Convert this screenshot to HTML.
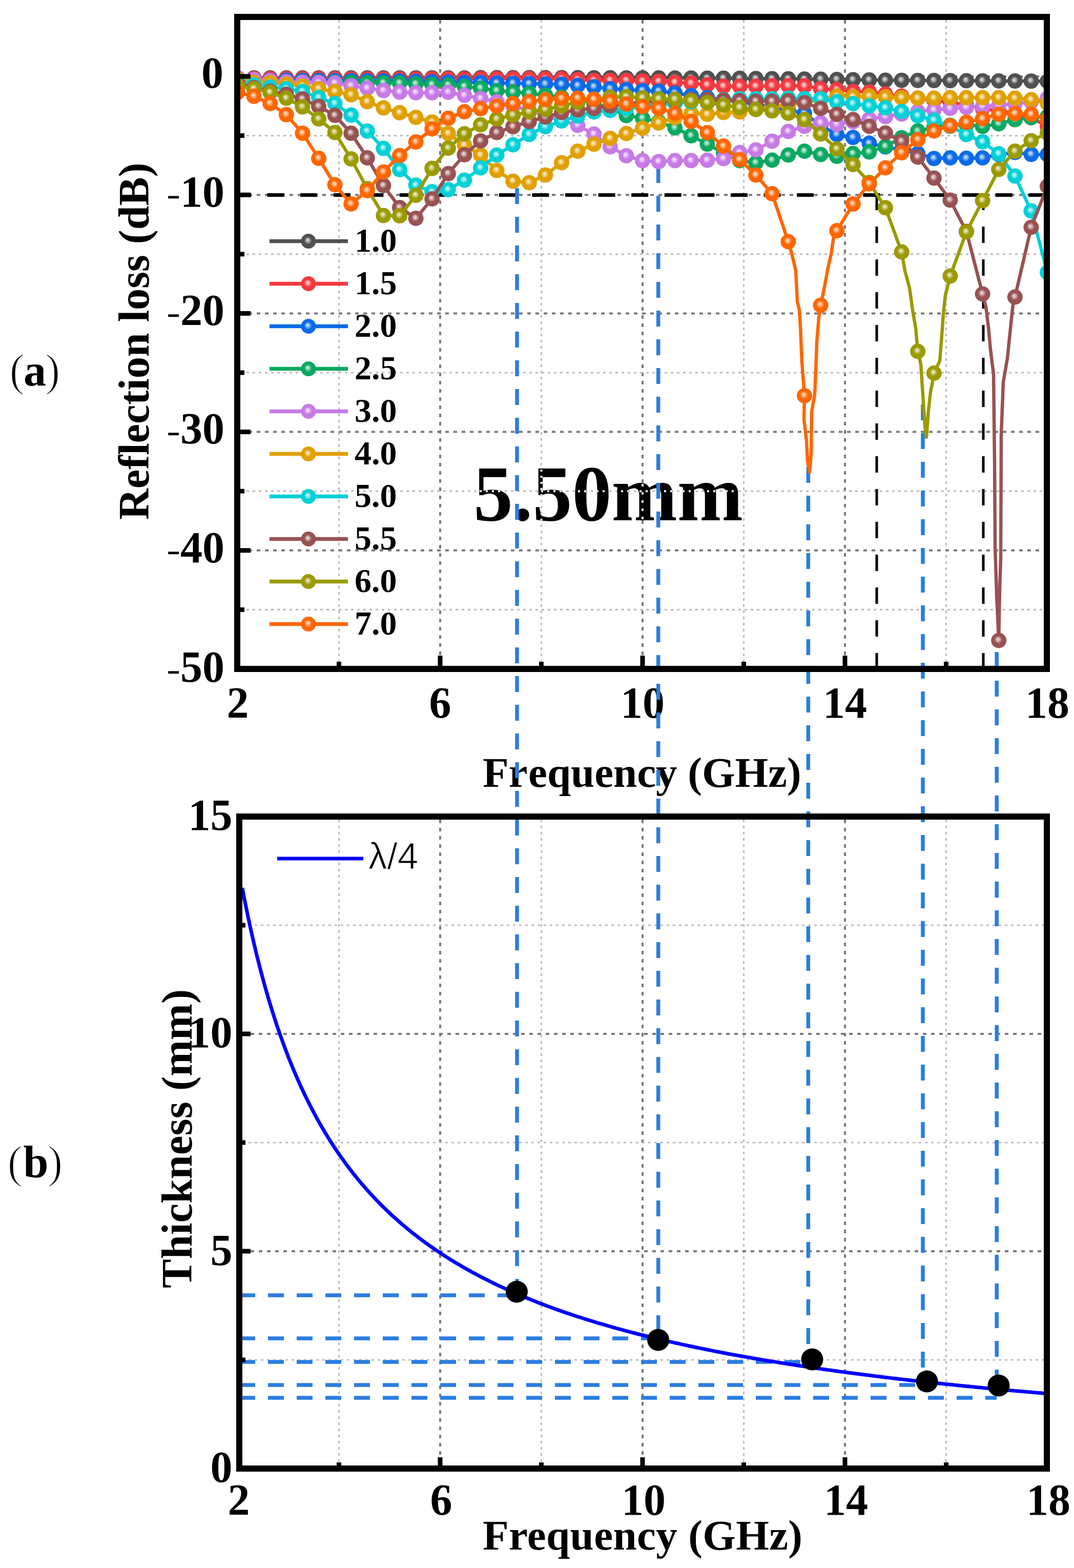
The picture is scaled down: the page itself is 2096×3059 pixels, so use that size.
<!DOCTYPE html><html><head><meta charset="utf-8"><title>Reflection loss and thickness</title>
<style>html,body{margin:0;padding:0;background:#fff;}svg{display:block;}</style></head><body>
<svg width="2096" height="3059" viewBox="0 0 2096 3059">
<defs>
<radialGradient id="g10" cx="0.5" cy="0.5" r="0.5" fx="0.44" fy="0.41"><stop offset="0" stop-color="#e5e5e5"/><stop offset="0.22" stop-color="#b0b0b0"/><stop offset="0.5" stop-color="#505050"/><stop offset="1" stop-color="#505050"/></radialGradient>
<radialGradient id="g15" cx="0.5" cy="0.5" r="0.5" fx="0.44" fy="0.41"><stop offset="0" stop-color="#fee1e2"/><stop offset="0.22" stop-color="#faa6a9"/><stop offset="0.5" stop-color="#f5393f"/><stop offset="1" stop-color="#f5393f"/></radialGradient>
<radialGradient id="g20" cx="0.5" cy="0.5" r="0.5" fx="0.44" fy="0.41"><stop offset="0" stop-color="#dae9fc"/><stop offset="0.22" stop-color="#91bcf5"/><stop offset="0.5" stop-color="#0a6be8"/><stop offset="1" stop-color="#0a6be8"/></radialGradient>
<radialGradient id="g25" cx="0.5" cy="0.5" r="0.5" fx="0.44" fy="0.41"><stop offset="0" stop-color="#daf2e7"/><stop offset="0.22" stop-color="#91d8b7"/><stop offset="0.5" stop-color="#0aa860"/><stop offset="1" stop-color="#0aa860"/></radialGradient>
<radialGradient id="g30" cx="0.5" cy="0.5" r="0.5" fx="0.44" fy="0.41"><stop offset="0" stop-color="#f7ebfb"/><stop offset="0.22" stop-color="#e6c3f4"/><stop offset="0.5" stop-color="#c77ae6"/><stop offset="1" stop-color="#c77ae6"/></radialGradient>
<radialGradient id="g40" cx="0.5" cy="0.5" r="0.5" fx="0.44" fy="0.41"><stop offset="0" stop-color="#faf1d9"/><stop offset="0.22" stop-color="#f1d48c"/><stop offset="0.5" stop-color="#e0a000"/><stop offset="1" stop-color="#e0a000"/></radialGradient>
<radialGradient id="g50" cx="0.5" cy="0.5" r="0.5" fx="0.44" fy="0.41"><stop offset="0" stop-color="#d9f8f9"/><stop offset="0.22" stop-color="#8ceaed"/><stop offset="0.5" stop-color="#00d0d6"/><stop offset="1" stop-color="#00d0d6"/></radialGradient>
<radialGradient id="g55" cx="0.5" cy="0.5" r="0.5" fx="0.44" fy="0.41"><stop offset="0" stop-color="#f0e5e5"/><stop offset="0.22" stop-color="#d1b1b1"/><stop offset="0.5" stop-color="#985252"/><stop offset="1" stop-color="#985252"/></radialGradient>
<radialGradient id="g60" cx="0.5" cy="0.5" r="0.5" fx="0.44" fy="0.41"><stop offset="0" stop-color="#f0f0d9"/><stop offset="0.22" stop-color="#d2d28c"/><stop offset="0.5" stop-color="#9a9a00"/><stop offset="1" stop-color="#9a9a00"/></radialGradient>
<radialGradient id="g70" cx="0.5" cy="0.5" r="0.5" fx="0.44" fy="0.41"><stop offset="0" stop-color="#ffe8d9"/><stop offset="0.22" stop-color="#ffba8c"/><stop offset="0.5" stop-color="#ff6600"/><stop offset="1" stop-color="#ff6600"/></radialGradient>
<clipPath id="clipA"><rect x="469" y="39" width="1568" height="1260"/></clipPath>
<clipPath id="clipB"><rect x="473" y="1599" width="1564" height="1260"/></clipPath>
<clipPath id="clipT"><text x="924" y="1015" style="font-family:&quot;Liberation Serif&quot;,&quot;Times New Roman&quot;,serif;font-weight:bold;font-size:154px">5.50mm</text></clipPath>
</defs>
<rect x="0" y="0" width="2096" height="3059" fill="#fff"/>
<g><line x1="661.5" y1="39" x2="661.5" y2="1299" stroke="#bdbdbd" stroke-width="3.2" stroke-dasharray="5 7"/><line x1="859" y1="39" x2="859" y2="1299" stroke="#7a7a7a" stroke-width="4" stroke-dasharray="7 9"/><line x1="1056.5" y1="39" x2="1056.5" y2="1299" stroke="#bdbdbd" stroke-width="3.2" stroke-dasharray="5 7"/><line x1="1254" y1="39" x2="1254" y2="1299" stroke="#7a7a7a" stroke-width="4" stroke-dasharray="7 9"/><line x1="1451.5" y1="39" x2="1451.5" y2="1299" stroke="#bdbdbd" stroke-width="3.2" stroke-dasharray="5 7"/><line x1="1649" y1="39" x2="1649" y2="1299" stroke="#7a7a7a" stroke-width="4" stroke-dasharray="7 9"/><line x1="1846.5" y1="39" x2="1846.5" y2="1299" stroke="#bdbdbd" stroke-width="3.2" stroke-dasharray="5 7"/><line x1="469" y1="149" x2="2037" y2="149" stroke="#7a7a7a" stroke-width="4" stroke-dasharray="7 9"/><line x1="469" y1="264.6" x2="2037" y2="264.6" stroke="#bdbdbd" stroke-width="3.2" stroke-dasharray="5 7"/><line x1="469" y1="380.2" x2="2037" y2="380.2" stroke="#7a7a7a" stroke-width="4" stroke-dasharray="7 9"/><line x1="469" y1="495.8" x2="2037" y2="495.8" stroke="#bdbdbd" stroke-width="3.2" stroke-dasharray="5 7"/><line x1="469" y1="611.4" x2="2037" y2="611.4" stroke="#7a7a7a" stroke-width="4" stroke-dasharray="7 9"/><line x1="469" y1="727" x2="2037" y2="727" stroke="#bdbdbd" stroke-width="3.2" stroke-dasharray="5 7"/><line x1="469" y1="842.6" x2="2037" y2="842.6" stroke="#7a7a7a" stroke-width="4" stroke-dasharray="7 9"/><line x1="469" y1="958.2" x2="2037" y2="958.2" stroke="#bdbdbd" stroke-width="3.2" stroke-dasharray="5 7"/><line x1="469" y1="1073.8" x2="2037" y2="1073.8" stroke="#7a7a7a" stroke-width="4" stroke-dasharray="7 9"/><line x1="469" y1="1189.4" x2="2037" y2="1189.4" stroke="#bdbdbd" stroke-width="3.2" stroke-dasharray="5 7"/><line x1="661.5" y1="1599" x2="661.5" y2="2859" stroke="#bdbdbd" stroke-width="3.2" stroke-dasharray="5 7"/><line x1="859" y1="1599" x2="859" y2="2859" stroke="#7a7a7a" stroke-width="4" stroke-dasharray="7 9"/><line x1="1056.5" y1="1599" x2="1056.5" y2="2859" stroke="#bdbdbd" stroke-width="3.2" stroke-dasharray="5 7"/><line x1="1254" y1="1599" x2="1254" y2="2859" stroke="#7a7a7a" stroke-width="4" stroke-dasharray="7 9"/><line x1="1451.5" y1="1599" x2="1451.5" y2="2859" stroke="#bdbdbd" stroke-width="3.2" stroke-dasharray="5 7"/><line x1="1649" y1="1599" x2="1649" y2="2859" stroke="#7a7a7a" stroke-width="4" stroke-dasharray="7 9"/><line x1="1846.5" y1="1599" x2="1846.5" y2="2859" stroke="#bdbdbd" stroke-width="3.2" stroke-dasharray="5 7"/><line x1="473" y1="2653" x2="2037" y2="2653" stroke="#bdbdbd" stroke-width="3.2" stroke-dasharray="5 7"/><line x1="473" y1="2441" x2="2037" y2="2441" stroke="#7a7a7a" stroke-width="4" stroke-dasharray="7 9"/><line x1="473" y1="2229" x2="2037" y2="2229" stroke="#bdbdbd" stroke-width="3.2" stroke-dasharray="5 7"/><line x1="473" y1="2017" x2="2037" y2="2017" stroke="#7a7a7a" stroke-width="4" stroke-dasharray="7 9"/><line x1="473" y1="1805" x2="2037" y2="1805" stroke="#bdbdbd" stroke-width="3.2" stroke-dasharray="5 7"/></g>
<text x="924" y="1015" style="font-family:&quot;Liberation Serif&quot;,&quot;Times New Roman&quot;,serif;font-weight:bold;font-size:154px">5.50mm</text>
<g clip-path="url(#clipT)" stroke="#f4f4f4" stroke-width="4"><line x1="900" y1="958.2" x2="1460" y2="958.2" stroke-dasharray="4 8"/><line x1="1056.5" y1="880" x2="1056.5" y2="1030" stroke-dasharray="4 8"/><line x1="1254" y1="880" x2="1254" y2="1030" stroke-dasharray="5 11"/></g>
<g style="font-family:&quot;Liberation Serif&quot;,&quot;Times New Roman&quot;,serif;font-weight:bold;font-size:86px" fill="#000"><text x="436" y="171" text-anchor="end">0</text><text x="436" y="403" text-anchor="end"><tspan font-weight="normal" dy="2" dx="2" stroke="#fff" stroke-width="1.4">-</tspan><tspan dy="-2" dx="-1">10</tspan></text><text x="436" y="634" text-anchor="end"><tspan font-weight="normal" dy="2" dx="2" stroke="#fff" stroke-width="1.4">-</tspan><tspan dy="-2" dx="-1">20</tspan></text><text x="436" y="865" text-anchor="end"><tspan font-weight="normal" dy="2" dx="2" stroke="#fff" stroke-width="1.4">-</tspan><tspan dy="-2" dx="-1">30</tspan></text><text x="436" y="1097" text-anchor="end"><tspan font-weight="normal" dy="2" dx="2" stroke="#fff" stroke-width="1.4">-</tspan><tspan dy="-2" dx="-1">40</tspan></text><text x="436" y="1330" text-anchor="end"><tspan font-weight="normal" dy="2" dx="2" stroke="#fff" stroke-width="1.4">-</tspan><tspan dy="-2" dx="-1">50</tspan></text><text x="464" y="1400" text-anchor="middle">2</text><text x="859" y="1400" text-anchor="middle">6</text><text x="1254" y="1400" text-anchor="middle">10</text><text x="1649" y="1400" text-anchor="middle">14</text><text x="2044" y="1400" text-anchor="middle">18</text><text x="453.5" y="2891" text-anchor="end">0</text><text x="453.5" y="2468" text-anchor="end">5</text><text x="453.5" y="2043" text-anchor="end">10</text><text x="453.5" y="1619" text-anchor="end">15</text><text x="466" y="2955" text-anchor="middle">2</text><text x="861" y="2955" text-anchor="middle">6</text><text x="1256" y="2955" text-anchor="middle">10</text><text x="1651" y="2955" text-anchor="middle">14</text><text x="2046" y="2955" text-anchor="middle">18</text></g>
<text transform="translate(289.5,1014) rotate(-90)" style="font-family:&quot;Liberation Serif&quot;,&quot;Times New Roman&quot;,serif;font-weight:bold;font-size:84.2px">Reflection loss (dB)</text>
<text x="942" y="1534.5" style="font-family:&quot;Liberation Serif&quot;,&quot;Times New Roman&quot;,serif;font-weight:bold;font-size:83px">Fr<tspan dx="3">equency (GHz)</tspan></text>
<text transform="translate(373.5,2513) rotate(-90)" style="font-family:&quot;Liberation Serif&quot;,&quot;Times New Roman&quot;,serif;font-weight:bold;font-size:85px">Thickness (mm)</text>
<text x="942" y="3023" style="font-family:&quot;Liberation Serif&quot;,&quot;Times New Roman&quot;,serif;font-weight:bold;font-size:83px" textLength="624" lengthAdjust="spacing">Frequency (GHz)</text>
<text y="752" style="font-family:&quot;Liberation Serif&quot;,&quot;Times New Roman&quot;,serif;font-size:88px"><tspan x="18.6" stroke="#fff" stroke-width="2">(</tspan><tspan x="46" font-weight="bold">a</tspan><tspan x="88" stroke="#fff" stroke-width="2">)</tspan></text>
<text y="2296.5" style="font-family:&quot;Liberation Serif&quot;,&quot;Times New Roman&quot;,serif;font-size:88px"><tspan x="14.6" stroke="#fff" stroke-width="2">(</tspan><tspan x="45.5" font-weight="bold">b</tspan><tspan x="93" stroke="#fff" stroke-width="2">)</tspan></text>
<line x1="457" y1="380.5" x2="2037" y2="380.5" stroke="#000" stroke-width="7" stroke-dasharray="33 31.6"/>
<line x1="1711" y1="378" x2="1711" y2="1299" stroke="#000" stroke-width="5" stroke-dasharray="32 32"/>
<line x1="1919" y1="378" x2="1919" y2="1299" stroke="#000" stroke-width="5" stroke-dasharray="32 32"/>
<line x1="1009" y1="367" x2="1009" y2="2520" stroke="#2a7de1" stroke-width="7.5" stroke-dasharray="31 25"/>
<line x1="1284.7" y1="326" x2="1284.7" y2="2614" stroke="#2a7de1" stroke-width="7.5" stroke-dasharray="31 25"/>
<line x1="1577.4" y1="911" x2="1577.4" y2="2652" stroke="#2a7de1" stroke-width="7.5" stroke-dasharray="31 25"/>
<line x1="1801" y1="789" x2="1801" y2="2695" stroke="#2a7de1" stroke-width="7.5" stroke-dasharray="31 25"/>
<line x1="1945.2" y1="1272" x2="1945.2" y2="2703" stroke="#2a7de1" stroke-width="7.5" stroke-dasharray="31 25"/>
<line x1="467" y1="2527" x2="1009" y2="2527" stroke="#2a7de1" stroke-width="7.5" stroke-dasharray="31 25"/>
<line x1="467" y1="2611" x2="1284.7" y2="2611" stroke="#2a7de1" stroke-width="7.5" stroke-dasharray="31 25"/>
<line x1="467" y1="2657" x2="1584" y2="2657" stroke="#2a7de1" stroke-width="7.5" stroke-dasharray="31 25"/>
<line x1="467" y1="2702" x2="1808" y2="2702" stroke="#2a7de1" stroke-width="7.5" stroke-dasharray="31 25"/>
<line x1="467" y1="2727" x2="1945" y2="2727" stroke="#2a7de1" stroke-width="7.5" stroke-dasharray="31 25"/>
<g clip-path="url(#clipA)">
<path d="M464,152 L495.6,152 L527.2,152 L558.8,152 L590.4,152 L622,152 L653.6,152 L685.2,152 L716.8,152 L748.4,152 L780,152 L811.6,152 L843.2,152 L874.8,152 L906.4,152 L938,151.5 L969.6,151.5 L1001.2,151.5 L1032.8,151.5 L1064.4,151.5 L1096,151.5 L1127.6,151.6 L1159.2,151.7 L1190.8,151.8 L1222.4,151.9 L1254,152 L1285.6,152.1 L1317.2,152.2 L1348.8,152.3 L1380.4,152.4 L1412,152.5 L1443.6,152.8 L1475.2,153.2 L1506.8,153.5 L1538.4,153.8 L1570,154.2 L1601.6,154.5 L1633.2,155 L1664.8,155.5 L1696.4,156 L1728,156.5 L1759.6,156.7 L1791.2,156.9 L1822.8,157.1 L1854.4,157.3 L1886,157.5 L1917.6,157.7 L1949.2,157.9 L1980.8,158.1 L2012.4,158.3 L2044,158.5" fill="none" stroke="#505050" stroke-width="6.5" stroke-linejoin="round"/>
<g fill="url(#g10)"><circle cx="464" cy="152" r="15"/><circle cx="495.6" cy="152" r="15"/><circle cx="527.2" cy="152" r="15"/><circle cx="558.8" cy="152" r="15"/><circle cx="590.4" cy="152" r="15"/><circle cx="622" cy="152" r="15"/><circle cx="653.6" cy="152" r="15"/><circle cx="685.2" cy="152" r="15"/><circle cx="716.8" cy="152" r="15"/><circle cx="748.4" cy="152" r="15"/><circle cx="780" cy="152" r="15"/><circle cx="811.6" cy="152" r="15"/><circle cx="843.2" cy="152" r="15"/><circle cx="874.8" cy="152" r="15"/><circle cx="906.4" cy="152" r="15"/><circle cx="938" cy="151.5" r="15"/><circle cx="969.6" cy="151.5" r="15"/><circle cx="1001.2" cy="151.5" r="15"/><circle cx="1032.8" cy="151.5" r="15"/><circle cx="1064.4" cy="151.5" r="15"/><circle cx="1096" cy="151.5" r="15"/><circle cx="1127.6" cy="151.6" r="15"/><circle cx="1159.2" cy="151.7" r="15"/><circle cx="1190.8" cy="151.8" r="15"/><circle cx="1222.4" cy="151.9" r="15"/><circle cx="1254" cy="152" r="15"/><circle cx="1285.6" cy="152.1" r="15"/><circle cx="1317.2" cy="152.2" r="15"/><circle cx="1348.8" cy="152.3" r="15"/><circle cx="1380.4" cy="152.4" r="15"/><circle cx="1412" cy="152.5" r="15"/><circle cx="1443.6" cy="152.8" r="15"/><circle cx="1475.2" cy="153.2" r="15"/><circle cx="1506.8" cy="153.5" r="15"/><circle cx="1538.4" cy="153.8" r="15"/><circle cx="1570" cy="154.2" r="15"/><circle cx="1601.6" cy="154.5" r="15"/><circle cx="1633.2" cy="155" r="15"/><circle cx="1664.8" cy="155.5" r="15"/><circle cx="1696.4" cy="156" r="15"/><circle cx="1728" cy="156.5" r="15"/><circle cx="1759.6" cy="156.7" r="15"/><circle cx="1791.2" cy="156.9" r="15"/><circle cx="1822.8" cy="157.1" r="15"/><circle cx="1854.4" cy="157.3" r="15"/><circle cx="1886" cy="157.5" r="15"/><circle cx="1917.6" cy="157.7" r="15"/><circle cx="1949.2" cy="157.9" r="15"/><circle cx="1980.8" cy="158.1" r="15"/><circle cx="2012.4" cy="158.3" r="15"/><circle cx="2044" cy="158.5" r="15"/></g>
<path d="M464,153.5 L495.6,153.5 L527.2,153.5 L558.8,153.6 L590.4,153.6 L622,153.6 L653.6,153.7 L685.2,153.7 L716.8,153.7 L748.4,153.7 L780,153.8 L811.6,153.8 L843.2,153.8 L874.8,153.8 L906.4,153.8 L938,153.4 L969.6,153.4 L1001.2,153.4 L1032.8,153.5 L1064.4,153.5 L1096,153.5 L1127.6,155.2 L1159.2,156.9 L1190.8,156.9 L1222.4,156.9 L1254,157.9 L1285.6,158.8 L1317.2,160.7 L1348.8,162.5 L1380.4,165.5 L1412,168.2 L1443.6,168.2 L1475.2,168.2 L1506.8,167.5 L1538.4,167.3 L1570,167.5 L1601.6,173 L1633.2,174.8 L1664.8,178.5 L1696.4,179.5 L1728,183.5 L1759.6,187.5 L1791.2,191.5 L1822.8,195.5 L1854.4,199.5 L1886,205.5 L1917.6,211.5 L1949.2,216.5 L1980.8,221.5 L2012.4,229.5 L2044,246.5" fill="none" stroke="#f5393f" stroke-width="6.5" stroke-linejoin="round"/>
<g fill="url(#g15)"><circle cx="464" cy="153.5" r="15"/><circle cx="495.6" cy="153.5" r="15"/><circle cx="527.2" cy="153.5" r="15"/><circle cx="558.8" cy="153.6" r="15"/><circle cx="590.4" cy="153.6" r="15"/><circle cx="622" cy="153.6" r="15"/><circle cx="653.6" cy="153.7" r="15"/><circle cx="685.2" cy="153.7" r="15"/><circle cx="716.8" cy="153.7" r="15"/><circle cx="748.4" cy="153.7" r="15"/><circle cx="780" cy="153.8" r="15"/><circle cx="811.6" cy="153.8" r="15"/><circle cx="843.2" cy="153.8" r="15"/><circle cx="874.8" cy="153.8" r="15"/><circle cx="906.4" cy="153.8" r="15"/><circle cx="938" cy="153.4" r="15"/><circle cx="969.6" cy="153.4" r="15"/><circle cx="1001.2" cy="153.4" r="15"/><circle cx="1032.8" cy="153.5" r="15"/><circle cx="1064.4" cy="153.5" r="15"/><circle cx="1096" cy="153.5" r="15"/><circle cx="1127.6" cy="155.2" r="15"/><circle cx="1159.2" cy="156.9" r="15"/><circle cx="1190.8" cy="156.9" r="15"/><circle cx="1222.4" cy="156.9" r="15"/><circle cx="1254" cy="157.9" r="15"/><circle cx="1285.6" cy="158.8" r="15"/><circle cx="1317.2" cy="160.7" r="15"/><circle cx="1348.8" cy="162.5" r="15"/><circle cx="1380.4" cy="165.5" r="15"/><circle cx="1412" cy="168.2" r="15"/><circle cx="1443.6" cy="168.2" r="15"/><circle cx="1475.2" cy="168.2" r="15"/><circle cx="1506.8" cy="167.5" r="15"/><circle cx="1538.4" cy="167.3" r="15"/><circle cx="1570" cy="167.5" r="15"/><circle cx="1601.6" cy="173" r="15"/><circle cx="1633.2" cy="174.8" r="15"/><circle cx="1664.8" cy="178.5" r="15"/><circle cx="1696.4" cy="179.5" r="15"/><circle cx="1728" cy="183.5" r="15"/><circle cx="1759.6" cy="187.5" r="15"/><circle cx="1791.2" cy="191.5" r="15"/><circle cx="1822.8" cy="195.5" r="15"/><circle cx="1854.4" cy="199.5" r="15"/><circle cx="1886" cy="205.5" r="15"/><circle cx="1917.6" cy="211.5" r="15"/><circle cx="1949.2" cy="216.5" r="15"/><circle cx="1980.8" cy="221.5" r="15"/><circle cx="2012.4" cy="229.5" r="15"/><circle cx="2044" cy="246.5" r="15"/></g>
<path d="M464,156 L495.6,156.2 L527.2,156.4 L558.8,156.6 L590.4,156.8 L622,157 L653.6,157.2 L685.2,157.4 L716.8,157.6 L748.4,157.8 L780,158 L811.6,158.7 L843.2,159.4 L874.8,160.2 L906.4,160.9 L938,161.1 L969.6,161.8 L1001.2,162.4 L1032.8,163.1 L1064.4,163.8 L1096,164.5 L1127.6,166.8 L1159.2,169.2 L1190.8,173 L1222.4,174.8 L1254,176.7 L1285.6,177.7 L1317.2,181.5 L1348.8,186.5 L1380.4,190.5 L1412,194.5 L1443.6,198.5 L1475.2,203.5 L1506.8,209.5 L1538.4,214.5 L1570,221 L1601.6,244.5 L1633.2,262.5 L1664.8,268.1 L1696.4,279.5 L1728,286.6 L1759.6,292.5 L1791.2,299.5 L1822.8,309.2 L1854.4,308 L1886,308.7 L1917.6,308 L1949.2,301.5 L1980.8,297.5 L2012.4,301.2 L2044,301.5" fill="none" stroke="#0a6be8" stroke-width="6.5" stroke-linejoin="round"/>
<g fill="url(#g20)"><circle cx="464" cy="156" r="15"/><circle cx="495.6" cy="156.2" r="15"/><circle cx="527.2" cy="156.4" r="15"/><circle cx="558.8" cy="156.6" r="15"/><circle cx="590.4" cy="156.8" r="15"/><circle cx="622" cy="157" r="15"/><circle cx="653.6" cy="157.2" r="15"/><circle cx="685.2" cy="157.4" r="15"/><circle cx="716.8" cy="157.6" r="15"/><circle cx="748.4" cy="157.8" r="15"/><circle cx="780" cy="158" r="15"/><circle cx="811.6" cy="158.7" r="15"/><circle cx="843.2" cy="159.4" r="15"/><circle cx="874.8" cy="160.2" r="15"/><circle cx="906.4" cy="160.9" r="15"/><circle cx="938" cy="161.1" r="15"/><circle cx="969.6" cy="161.8" r="15"/><circle cx="1001.2" cy="162.4" r="15"/><circle cx="1032.8" cy="163.1" r="15"/><circle cx="1064.4" cy="163.8" r="15"/><circle cx="1096" cy="164.5" r="15"/><circle cx="1127.6" cy="166.8" r="15"/><circle cx="1159.2" cy="169.2" r="15"/><circle cx="1190.8" cy="173" r="15"/><circle cx="1222.4" cy="174.8" r="15"/><circle cx="1254" cy="176.7" r="15"/><circle cx="1285.6" cy="177.7" r="15"/><circle cx="1317.2" cy="181.5" r="15"/><circle cx="1348.8" cy="186.5" r="15"/><circle cx="1380.4" cy="190.5" r="15"/><circle cx="1412" cy="194.5" r="15"/><circle cx="1443.6" cy="198.5" r="15"/><circle cx="1475.2" cy="203.5" r="15"/><circle cx="1506.8" cy="209.5" r="15"/><circle cx="1538.4" cy="214.5" r="15"/><circle cx="1570" cy="221" r="15"/><circle cx="1601.6" cy="244.5" r="15"/><circle cx="1633.2" cy="262.5" r="15"/><circle cx="1664.8" cy="268.1" r="15"/><circle cx="1696.4" cy="279.5" r="15"/><circle cx="1728" cy="286.6" r="15"/><circle cx="1759.6" cy="292.5" r="15"/><circle cx="1791.2" cy="299.5" r="15"/><circle cx="1822.8" cy="309.2" r="15"/><circle cx="1854.4" cy="308" r="15"/><circle cx="1886" cy="308.7" r="15"/><circle cx="1917.6" cy="308" r="15"/><circle cx="1949.2" cy="301.5" r="15"/><circle cx="1980.8" cy="297.5" r="15"/><circle cx="2012.4" cy="301.2" r="15"/><circle cx="2044" cy="301.5" r="15"/></g>
<path d="M464,159 L495.6,159.3 L527.2,159.6 L558.8,159.9 L590.4,160.2 L622,160.5 L653.6,160.8 L685.2,161.1 L716.8,161.4 L748.4,161.7 L780,162 L811.6,163.5 L843.2,165 L874.8,166 L906.4,168.6 L938,171.9 L969.6,176.9 L1001.2,179.5 L1032.8,181.9 L1064.4,185.5 L1096,189.5 L1127.6,194.5 L1159.2,201.5 L1190.8,211.5 L1222.4,225.5 L1254,230.5 L1285.6,237.5 L1317.2,249.5 L1348.8,264.8 L1380.4,281.1 L1412,298.5 L1443.6,313.5 L1475.2,317.5 L1506.8,312.5 L1538.4,302.5 L1570,295 L1601.6,301.5 L1633.2,305 L1664.8,299.5 L1696.4,296.5 L1728,285.5 L1759.6,268.5 L1791.2,255.5 L1822.8,248.5 L1854.4,244.5 L1886,243.5 L1917.6,246.5 L1949.2,241.5 L1980.8,233.5 L2012.4,229.5 L2044,227.5" fill="none" stroke="#0aa860" stroke-width="6.5" stroke-linejoin="round"/>
<g fill="url(#g25)"><circle cx="464" cy="159" r="15"/><circle cx="495.6" cy="159.3" r="15"/><circle cx="527.2" cy="159.6" r="15"/><circle cx="558.8" cy="159.9" r="15"/><circle cx="590.4" cy="160.2" r="15"/><circle cx="622" cy="160.5" r="15"/><circle cx="653.6" cy="160.8" r="15"/><circle cx="685.2" cy="161.1" r="15"/><circle cx="716.8" cy="161.4" r="15"/><circle cx="748.4" cy="161.7" r="15"/><circle cx="780" cy="162" r="15"/><circle cx="811.6" cy="163.5" r="15"/><circle cx="843.2" cy="165" r="15"/><circle cx="874.8" cy="166" r="15"/><circle cx="906.4" cy="168.6" r="15"/><circle cx="938" cy="171.9" r="15"/><circle cx="969.6" cy="176.9" r="15"/><circle cx="1001.2" cy="179.5" r="15"/><circle cx="1032.8" cy="181.9" r="15"/><circle cx="1064.4" cy="185.5" r="15"/><circle cx="1096" cy="189.5" r="15"/><circle cx="1127.6" cy="194.5" r="15"/><circle cx="1159.2" cy="201.5" r="15"/><circle cx="1190.8" cy="211.5" r="15"/><circle cx="1222.4" cy="225.5" r="15"/><circle cx="1254" cy="230.5" r="15"/><circle cx="1285.6" cy="237.5" r="15"/><circle cx="1317.2" cy="249.5" r="15"/><circle cx="1348.8" cy="264.8" r="15"/><circle cx="1380.4" cy="281.1" r="15"/><circle cx="1412" cy="298.5" r="15"/><circle cx="1443.6" cy="313.5" r="15"/><circle cx="1475.2" cy="317.5" r="15"/><circle cx="1506.8" cy="312.5" r="15"/><circle cx="1538.4" cy="302.5" r="15"/><circle cx="1570" cy="295" r="15"/><circle cx="1601.6" cy="301.5" r="15"/><circle cx="1633.2" cy="305" r="15"/><circle cx="1664.8" cy="299.5" r="15"/><circle cx="1696.4" cy="296.5" r="15"/><circle cx="1728" cy="285.5" r="15"/><circle cx="1759.6" cy="268.5" r="15"/><circle cx="1791.2" cy="255.5" r="15"/><circle cx="1822.8" cy="248.5" r="15"/><circle cx="1854.4" cy="244.5" r="15"/><circle cx="1886" cy="243.5" r="15"/><circle cx="1917.6" cy="246.5" r="15"/><circle cx="1949.2" cy="241.5" r="15"/><circle cx="1980.8" cy="233.5" r="15"/><circle cx="2012.4" cy="229.5" r="15"/><circle cx="2044" cy="227.5" r="15"/></g>
<path d="M464,152 L495.6,155 L527.2,157 L558.8,159.5 L590.4,160.5 L622,161 L653.6,162 L685.2,167.2 L716.8,172 L748.4,176.6 L780,179.8 L811.6,181 L843.2,181 L874.8,180 L906.4,186 L938,192 L969.6,198.5 L1001.2,206.5 L1032.8,215.5 L1064.4,225.5 L1096,234.5 L1127.6,244.5 L1159.2,261.5 L1190.8,286.5 L1222.4,303.9 L1254,313.3 L1285.6,315.2 L1317.2,313.3 L1348.8,313.3 L1380.4,312.4 L1412,309.5 L1443.6,297.5 L1475.2,292.5 L1506.8,275.5 L1538.4,256.5 L1570,246.5 L1601.6,239.5 L1633.2,242.5 L1664.8,237.5 L1696.4,232.5 L1728,227.5 L1759.6,222.5 L1791.2,217.5 L1822.8,214.5 L1854.4,211.5 L1886,209.5 L1917.6,207.5 L1949.2,205.5 L1980.8,202.5 L2012.4,198.5 L2044,191.5" fill="none" stroke="#c77ae6" stroke-width="6.5" stroke-linejoin="round"/>
<g fill="url(#g30)"><circle cx="464" cy="152" r="15"/><circle cx="495.6" cy="155" r="15"/><circle cx="527.2" cy="157" r="15"/><circle cx="558.8" cy="159.5" r="15"/><circle cx="590.4" cy="160.5" r="15"/><circle cx="622" cy="161" r="15"/><circle cx="653.6" cy="162" r="15"/><circle cx="685.2" cy="167.2" r="15"/><circle cx="716.8" cy="172" r="15"/><circle cx="748.4" cy="176.6" r="15"/><circle cx="780" cy="179.8" r="15"/><circle cx="811.6" cy="181" r="15"/><circle cx="843.2" cy="181" r="15"/><circle cx="874.8" cy="180" r="15"/><circle cx="906.4" cy="186" r="15"/><circle cx="938" cy="192" r="15"/><circle cx="969.6" cy="198.5" r="15"/><circle cx="1001.2" cy="206.5" r="15"/><circle cx="1032.8" cy="215.5" r="15"/><circle cx="1064.4" cy="225.5" r="15"/><circle cx="1096" cy="234.5" r="15"/><circle cx="1127.6" cy="244.5" r="15"/><circle cx="1159.2" cy="261.5" r="15"/><circle cx="1190.8" cy="286.5" r="15"/><circle cx="1222.4" cy="303.9" r="15"/><circle cx="1254" cy="313.3" r="15"/><circle cx="1285.6" cy="315.2" r="15"/><circle cx="1317.2" cy="313.3" r="15"/><circle cx="1348.8" cy="313.3" r="15"/><circle cx="1380.4" cy="312.4" r="15"/><circle cx="1412" cy="309.5" r="15"/><circle cx="1443.6" cy="297.5" r="15"/><circle cx="1475.2" cy="292.5" r="15"/><circle cx="1506.8" cy="275.5" r="15"/><circle cx="1538.4" cy="256.5" r="15"/><circle cx="1570" cy="246.5" r="15"/><circle cx="1601.6" cy="239.5" r="15"/><circle cx="1633.2" cy="242.5" r="15"/><circle cx="1664.8" cy="237.5" r="15"/><circle cx="1696.4" cy="232.5" r="15"/><circle cx="1728" cy="227.5" r="15"/><circle cx="1759.6" cy="222.5" r="15"/><circle cx="1791.2" cy="217.5" r="15"/><circle cx="1822.8" cy="214.5" r="15"/><circle cx="1854.4" cy="211.5" r="15"/><circle cx="1886" cy="209.5" r="15"/><circle cx="1917.6" cy="207.5" r="15"/><circle cx="1949.2" cy="205.5" r="15"/><circle cx="1980.8" cy="202.5" r="15"/><circle cx="2012.4" cy="198.5" r="15"/><circle cx="2044" cy="191.5" r="15"/></g>
<path d="M464,154 L495.6,160.5 L527.2,161 L558.8,164 L590.4,167.5 L622,172.9 L653.6,178.5 L685.2,185 L716.8,198.3 L748.4,210.6 L780,220 L811.6,229 L843.2,238 L874.8,260.3 L906.4,283 L938,302.5 L969.6,332.7 L1001.2,353.5 L1032.8,356.5 L1064.4,341.5 L1096,317.5 L1127.6,295 L1159.2,281.3 L1190.8,270 L1222.4,260.5 L1254,250.2 L1285.6,239.8 L1317.2,229.5 L1348.8,221 L1380.4,222.9 L1412,219.5 L1443.6,218.3 L1475.2,213.5 L1506.8,208.5 L1538.4,204.5 L1570,199.5 L1601.6,194.5 L1633.2,187.5 L1664.8,188.5 L1696.4,187.5 L1728,189.1 L1759.6,190.5 L1791.2,191.5 L1822.8,191.5 L1854.4,190.5 L1886,190.5 L1917.6,190.5 L1949.2,190.5 L1980.8,191.5 L2012.4,194.5 L2044,201.5" fill="none" stroke="#e0a000" stroke-width="6.5" stroke-linejoin="round"/>
<g fill="url(#g40)"><circle cx="464" cy="154" r="15"/><circle cx="495.6" cy="160.5" r="15"/><circle cx="527.2" cy="161" r="15"/><circle cx="558.8" cy="164" r="15"/><circle cx="590.4" cy="167.5" r="15"/><circle cx="622" cy="172.9" r="15"/><circle cx="653.6" cy="178.5" r="15"/><circle cx="685.2" cy="185" r="15"/><circle cx="716.8" cy="198.3" r="15"/><circle cx="748.4" cy="210.6" r="15"/><circle cx="780" cy="220" r="15"/><circle cx="811.6" cy="229" r="15"/><circle cx="843.2" cy="238" r="15"/><circle cx="874.8" cy="260.3" r="15"/><circle cx="906.4" cy="283" r="15"/><circle cx="938" cy="302.5" r="15"/><circle cx="969.6" cy="332.7" r="15"/><circle cx="1001.2" cy="353.5" r="15"/><circle cx="1032.8" cy="356.5" r="15"/><circle cx="1064.4" cy="341.5" r="15"/><circle cx="1096" cy="317.5" r="15"/><circle cx="1127.6" cy="295" r="15"/><circle cx="1159.2" cy="281.3" r="15"/><circle cx="1190.8" cy="270" r="15"/><circle cx="1222.4" cy="260.5" r="15"/><circle cx="1254" cy="250.2" r="15"/><circle cx="1285.6" cy="239.8" r="15"/><circle cx="1317.2" cy="229.5" r="15"/><circle cx="1348.8" cy="221" r="15"/><circle cx="1380.4" cy="222.9" r="15"/><circle cx="1412" cy="219.5" r="15"/><circle cx="1443.6" cy="218.3" r="15"/><circle cx="1475.2" cy="213.5" r="15"/><circle cx="1506.8" cy="208.5" r="15"/><circle cx="1538.4" cy="204.5" r="15"/><circle cx="1570" cy="199.5" r="15"/><circle cx="1601.6" cy="194.5" r="15"/><circle cx="1633.2" cy="187.5" r="15"/><circle cx="1664.8" cy="188.5" r="15"/><circle cx="1696.4" cy="187.5" r="15"/><circle cx="1728" cy="189.1" r="15"/><circle cx="1759.6" cy="190.5" r="15"/><circle cx="1791.2" cy="191.5" r="15"/><circle cx="1822.8" cy="191.5" r="15"/><circle cx="1854.4" cy="190.5" r="15"/><circle cx="1886" cy="190.5" r="15"/><circle cx="1917.6" cy="190.5" r="15"/><circle cx="1949.2" cy="190.5" r="15"/><circle cx="1980.8" cy="191.5" r="15"/><circle cx="2012.4" cy="194.5" r="15"/><circle cx="2044" cy="201.5" r="15"/></g>
<path d="M464,158 L495.6,165.7 L527.2,170 L558.8,173 L590.4,178.5 L622,190.5 L653.6,202 L685.2,224.6 L716.8,255.7 L748.4,289.6 L780,331 L811.6,361.2 L843.2,374 L874.8,370 L906.4,351.5 L938,327.5 L969.6,302.5 L1001.2,282.5 L1032.8,262.3 L1064.4,247.2 L1096,235.9 L1127.6,226.5 L1159.2,218.5 L1190.8,215.5 L1222.4,211.5 L1254,207.5 L1285.6,204.5 L1317.2,201.5 L1348.8,198.5 L1380.4,196.5 L1412,194.5 L1443.6,192.5 L1475.2,192.5 L1506.8,192.5 L1538.4,191.5 L1570,192.5 L1601.6,192.5 L1633.2,198.5 L1664.8,202.2 L1696.4,206.5 L1728,210.3 L1759.6,217.4 L1791.2,225.9 L1822.8,234.3 L1854.4,246.5 L1886,262.5 L1917.6,276.7 L1949.2,300 L1980.8,343.5 L2012.4,411.5 L2044,531.5" fill="none" stroke="#00d0d6" stroke-width="6.5" stroke-linejoin="round"/>
<g fill="url(#g50)"><circle cx="464" cy="158" r="15"/><circle cx="495.6" cy="165.7" r="15"/><circle cx="527.2" cy="170" r="15"/><circle cx="558.8" cy="173" r="15"/><circle cx="590.4" cy="178.5" r="15"/><circle cx="622" cy="190.5" r="15"/><circle cx="653.6" cy="202" r="15"/><circle cx="685.2" cy="224.6" r="15"/><circle cx="716.8" cy="255.7" r="15"/><circle cx="748.4" cy="289.6" r="15"/><circle cx="780" cy="331" r="15"/><circle cx="811.6" cy="361.2" r="15"/><circle cx="843.2" cy="374" r="15"/><circle cx="874.8" cy="370" r="15"/><circle cx="906.4" cy="351.5" r="15"/><circle cx="938" cy="327.5" r="15"/><circle cx="969.6" cy="302.5" r="15"/><circle cx="1001.2" cy="282.5" r="15"/><circle cx="1032.8" cy="262.3" r="15"/><circle cx="1064.4" cy="247.2" r="15"/><circle cx="1096" cy="235.9" r="15"/><circle cx="1127.6" cy="226.5" r="15"/><circle cx="1159.2" cy="218.5" r="15"/><circle cx="1190.8" cy="215.5" r="15"/><circle cx="1222.4" cy="211.5" r="15"/><circle cx="1254" cy="207.5" r="15"/><circle cx="1285.6" cy="204.5" r="15"/><circle cx="1317.2" cy="201.5" r="15"/><circle cx="1348.8" cy="198.5" r="15"/><circle cx="1380.4" cy="196.5" r="15"/><circle cx="1412" cy="194.5" r="15"/><circle cx="1443.6" cy="192.5" r="15"/><circle cx="1475.2" cy="192.5" r="15"/><circle cx="1506.8" cy="192.5" r="15"/><circle cx="1538.4" cy="191.5" r="15"/><circle cx="1570" cy="192.5" r="15"/><circle cx="1601.6" cy="192.5" r="15"/><circle cx="1633.2" cy="198.5" r="15"/><circle cx="1664.8" cy="202.2" r="15"/><circle cx="1696.4" cy="206.5" r="15"/><circle cx="1728" cy="210.3" r="15"/><circle cx="1759.6" cy="217.4" r="15"/><circle cx="1791.2" cy="225.9" r="15"/><circle cx="1822.8" cy="234.3" r="15"/><circle cx="1854.4" cy="246.5" r="15"/><circle cx="1886" cy="262.5" r="15"/><circle cx="1917.6" cy="276.7" r="15"/><circle cx="1949.2" cy="300" r="15"/><circle cx="1980.8" cy="343.5" r="15"/><circle cx="2012.4" cy="411.5" r="15"/><circle cx="2044" cy="531.5" r="15"/></g>
<path d="M464,163 L495.6,171 L527.2,178 L558.8,184 L590.4,193 L622,207.6 L653.6,225 L685.2,260 L716.8,308 L748.4,362 L780,405 L811.6,426 L843.2,388 L874.8,338.7 L906.4,302 L938,274.9 L969.6,258.5 L1001.2,247.2 L1032.8,237.2 L1064.4,228.4 L1096,219.5 L1127.6,214.5 L1159.2,211.5 L1190.8,206.5 L1222.4,202.5 L1254,199.5 L1285.6,197.5 L1317.2,195.5 L1348.8,194.5 L1380.4,194.5 L1412,195.5 L1443.6,196.5 L1475.2,197.5 L1506.8,197.5 L1538.4,196.5 L1570,200.3 L1601.6,211.5 L1633.2,222.9 L1664.8,233.3 L1696.4,246.5 L1728,259.5 L1759.6,275.5 L1791.2,306.5 L1822.8,347.4 L1854.4,390.5 L1886,451.5 L1917.6,573.5 L1924,598 L1929,638 L1933,682 L1939,730 L1941,900 L1942,1065 L1945,1160 L1949.2,1249.5 L1951,1150 L1953,1090 L1954,848 L1958,745 L1966,699 L1973,631 L1977,594 L1980.8,579.5 L2012.4,443.5 L2044,363.5" fill="none" stroke="#985252" stroke-width="6.5" stroke-linejoin="round"/>
<g fill="url(#g55)"><circle cx="464" cy="163" r="15"/><circle cx="495.6" cy="171" r="15"/><circle cx="527.2" cy="178" r="15"/><circle cx="558.8" cy="184" r="15"/><circle cx="590.4" cy="193" r="15"/><circle cx="622" cy="207.6" r="15"/><circle cx="653.6" cy="225" r="15"/><circle cx="685.2" cy="260" r="15"/><circle cx="716.8" cy="308" r="15"/><circle cx="748.4" cy="362" r="15"/><circle cx="780" cy="405" r="15"/><circle cx="811.6" cy="426" r="15"/><circle cx="843.2" cy="388" r="15"/><circle cx="874.8" cy="338.7" r="15"/><circle cx="906.4" cy="302" r="15"/><circle cx="938" cy="274.9" r="15"/><circle cx="969.6" cy="258.5" r="15"/><circle cx="1001.2" cy="247.2" r="15"/><circle cx="1032.8" cy="237.2" r="15"/><circle cx="1064.4" cy="228.4" r="15"/><circle cx="1096" cy="219.5" r="15"/><circle cx="1127.6" cy="214.5" r="15"/><circle cx="1159.2" cy="211.5" r="15"/><circle cx="1190.8" cy="206.5" r="15"/><circle cx="1222.4" cy="202.5" r="15"/><circle cx="1254" cy="199.5" r="15"/><circle cx="1285.6" cy="197.5" r="15"/><circle cx="1317.2" cy="195.5" r="15"/><circle cx="1348.8" cy="194.5" r="15"/><circle cx="1380.4" cy="194.5" r="15"/><circle cx="1412" cy="195.5" r="15"/><circle cx="1443.6" cy="196.5" r="15"/><circle cx="1475.2" cy="197.5" r="15"/><circle cx="1506.8" cy="197.5" r="15"/><circle cx="1538.4" cy="196.5" r="15"/><circle cx="1570" cy="200.3" r="15"/><circle cx="1601.6" cy="211.5" r="15"/><circle cx="1633.2" cy="222.9" r="15"/><circle cx="1664.8" cy="233.3" r="15"/><circle cx="1696.4" cy="246.5" r="15"/><circle cx="1728" cy="259.5" r="15"/><circle cx="1759.6" cy="275.5" r="15"/><circle cx="1791.2" cy="306.5" r="15"/><circle cx="1822.8" cy="347.4" r="15"/><circle cx="1854.4" cy="390.5" r="15"/><circle cx="1886" cy="451.5" r="15"/><circle cx="1917.6" cy="573.5" r="15"/><circle cx="1949.2" cy="1249.5" r="15"/><circle cx="1980.8" cy="579.5" r="15"/><circle cx="2012.4" cy="443.5" r="15"/><circle cx="2044" cy="363.5" r="15"/></g>
<path d="M464,168 L495.6,172.8 L527.2,180.3 L558.8,191.6 L590.4,208.6 L622,232 L653.6,258.5 L685.2,310 L716.8,368 L748.4,420.5 L780,421 L811.6,381 L843.2,328.6 L874.8,289 L906.4,261 L938,243.5 L969.6,232.2 L1001.2,224.5 L1032.8,218.3 L1064.4,213.5 L1096,206.5 L1127.6,199.5 L1159.2,193.5 L1190.8,189.5 L1222.4,188.5 L1254,190.9 L1285.6,192.7 L1317.2,193.7 L1348.8,196.5 L1380.4,200.3 L1412,205 L1443.6,209.7 L1475.2,213.5 L1506.8,216.3 L1538.4,221 L1570,233.3 L1601.6,261.5 L1633.2,290.5 L1664.8,320.9 L1696.4,355.9 L1728,405.3 L1759.6,491.5 L1766,528 L1775,562 L1781,605 L1787,640 L1791.2,685.5 L1797,710 L1801,770 L1805,830 L1808,853 L1812,800 L1816,765 L1820,745 L1822.8,728 L1834,704 L1837,668 L1841,612 L1845,576 L1854.4,538.5 L1886,452.5 L1917.6,391.5 L1949.2,330.5 L1980.8,295.1 L2012.4,274.5 L2044,259.5" fill="none" stroke="#9a9a00" stroke-width="6.5" stroke-linejoin="round"/>
<g fill="url(#g60)"><circle cx="464" cy="168" r="15"/><circle cx="495.6" cy="172.8" r="15"/><circle cx="527.2" cy="180.3" r="15"/><circle cx="558.8" cy="191.6" r="15"/><circle cx="590.4" cy="208.6" r="15"/><circle cx="622" cy="232" r="15"/><circle cx="653.6" cy="258.5" r="15"/><circle cx="685.2" cy="310" r="15"/><circle cx="716.8" cy="368" r="15"/><circle cx="748.4" cy="420.5" r="15"/><circle cx="780" cy="421" r="15"/><circle cx="811.6" cy="381" r="15"/><circle cx="843.2" cy="328.6" r="15"/><circle cx="874.8" cy="289" r="15"/><circle cx="906.4" cy="261" r="15"/><circle cx="938" cy="243.5" r="15"/><circle cx="969.6" cy="232.2" r="15"/><circle cx="1001.2" cy="224.5" r="15"/><circle cx="1032.8" cy="218.3" r="15"/><circle cx="1064.4" cy="213.5" r="15"/><circle cx="1096" cy="206.5" r="15"/><circle cx="1127.6" cy="199.5" r="15"/><circle cx="1159.2" cy="193.5" r="15"/><circle cx="1190.8" cy="189.5" r="15"/><circle cx="1222.4" cy="188.5" r="15"/><circle cx="1254" cy="190.9" r="15"/><circle cx="1285.6" cy="192.7" r="15"/><circle cx="1317.2" cy="193.7" r="15"/><circle cx="1348.8" cy="196.5" r="15"/><circle cx="1380.4" cy="200.3" r="15"/><circle cx="1412" cy="205" r="15"/><circle cx="1443.6" cy="209.7" r="15"/><circle cx="1475.2" cy="213.5" r="15"/><circle cx="1506.8" cy="216.3" r="15"/><circle cx="1538.4" cy="221" r="15"/><circle cx="1570" cy="233.3" r="15"/><circle cx="1601.6" cy="261.5" r="15"/><circle cx="1633.2" cy="290.5" r="15"/><circle cx="1664.8" cy="320.9" r="15"/><circle cx="1696.4" cy="355.9" r="15"/><circle cx="1728" cy="405.3" r="15"/><circle cx="1759.6" cy="491.5" r="15"/><circle cx="1791.2" cy="685.5" r="15"/><circle cx="1822.8" cy="728" r="15"/><circle cx="1854.4" cy="538.5" r="15"/><circle cx="1886" cy="452.5" r="15"/><circle cx="1917.6" cy="391.5" r="15"/><circle cx="1949.2" cy="330.5" r="15"/><circle cx="1980.8" cy="295.1" r="15"/><circle cx="2012.4" cy="274.5" r="15"/><circle cx="2044" cy="259.5" r="15"/></g>
<path d="M464,180 L495.6,187.8 L527.2,202 L558.8,223.6 L590.4,260 L622,309 L653.6,360.5 L685.2,397.8 L716.8,372 L748.4,335.5 L780,303.5 L811.6,277 L843.2,251.5 L874.8,230.7 L906.4,218 L938,212.1 L969.6,207 L1001.2,202 L1032.8,198.2 L1064.4,194.5 L1096,192 L1127.6,191.5 L1159.2,193.7 L1190.8,197.5 L1222.4,203.1 L1254,207.8 L1285.6,211.5 L1317.2,221 L1348.8,237 L1380.4,258.7 L1412,285.1 L1443.6,311.5 L1475.2,341.5 L1506.8,377.9 L1538.4,471.5 L1545,494 L1553,528 L1556,588 L1560,605 L1562,636 L1565,706 L1570,772 L1569,818 L1574,860 L1576,900 L1580,921 L1583,886 L1584,803 L1590,770 L1593,700 L1594,668 L1598,620 L1601.6,595.5 L1609,560 L1616,522 L1622,496 L1627,462 L1633.2,450.1 L1664.8,398.1 L1696.4,358.7 L1728,327.5 L1759.6,297.9 L1791.2,272.5 L1822.8,255.5 L1854.4,245.6 L1886,238.6 L1917.6,231.5 L1949.2,223 L1980.8,221.5 L2012.4,223 L2044,232.9" fill="none" stroke="#ff6600" stroke-width="6.5" stroke-linejoin="round"/>
<g fill="url(#g70)"><circle cx="464" cy="180" r="15"/><circle cx="495.6" cy="187.8" r="15"/><circle cx="527.2" cy="202" r="15"/><circle cx="558.8" cy="223.6" r="15"/><circle cx="590.4" cy="260" r="15"/><circle cx="622" cy="309" r="15"/><circle cx="653.6" cy="360.5" r="15"/><circle cx="685.2" cy="397.8" r="15"/><circle cx="716.8" cy="372" r="15"/><circle cx="748.4" cy="335.5" r="15"/><circle cx="780" cy="303.5" r="15"/><circle cx="811.6" cy="277" r="15"/><circle cx="843.2" cy="251.5" r="15"/><circle cx="874.8" cy="230.7" r="15"/><circle cx="906.4" cy="218" r="15"/><circle cx="938" cy="212.1" r="15"/><circle cx="969.6" cy="207" r="15"/><circle cx="1001.2" cy="202" r="15"/><circle cx="1032.8" cy="198.2" r="15"/><circle cx="1064.4" cy="194.5" r="15"/><circle cx="1096" cy="192" r="15"/><circle cx="1127.6" cy="191.5" r="15"/><circle cx="1159.2" cy="193.7" r="15"/><circle cx="1190.8" cy="197.5" r="15"/><circle cx="1222.4" cy="203.1" r="15"/><circle cx="1254" cy="207.8" r="15"/><circle cx="1285.6" cy="211.5" r="15"/><circle cx="1317.2" cy="221" r="15"/><circle cx="1348.8" cy="237" r="15"/><circle cx="1380.4" cy="258.7" r="15"/><circle cx="1412" cy="285.1" r="15"/><circle cx="1443.6" cy="311.5" r="15"/><circle cx="1475.2" cy="341.5" r="15"/><circle cx="1506.8" cy="377.9" r="15"/><circle cx="1538.4" cy="471.5" r="15"/><circle cx="1570" cy="772" r="15"/><circle cx="1601.6" cy="595.5" r="15"/><circle cx="1633.2" cy="450.1" r="15"/><circle cx="1664.8" cy="398.1" r="15"/><circle cx="1696.4" cy="358.7" r="15"/><circle cx="1728" cy="327.5" r="15"/><circle cx="1759.6" cy="297.9" r="15"/><circle cx="1791.2" cy="272.5" r="15"/><circle cx="1822.8" cy="255.5" r="15"/><circle cx="1854.4" cy="245.6" r="15"/><circle cx="1886" cy="238.6" r="15"/><circle cx="1917.6" cy="231.5" r="15"/><circle cx="1949.2" cy="223" r="15"/><circle cx="1980.8" cy="221.5" r="15"/><circle cx="2012.4" cy="223" r="15"/><circle cx="2044" cy="232.9" r="15"/></g>
</g>
<path d="M472.9,1732.2 L476.8,1752.8 L480.8,1772.5 L484.7,1791.5 L488.7,1809.9 L492.6,1827.5 L496.6,1844.6 L500.5,1861.1 L504.5,1877 L508.4,1892.4 L512.4,1907.2 L516.3,1921.6 L520.3,1935.6 L524.2,1949.1 L528.2,1962.2 L532.1,1974.9 L536.1,1987.3 L540,1999.3 L544,2010.9 L547.9,2022.2 L551.9,2033.2 L555.8,2043.9 L559.8,2054.4 L563.7,2064.5 L567.7,2074.4 L571.6,2084 L575.6,2093.4 L579.5,2102.5 L583.5,2111.4 L587.4,2120.1 L591.4,2128.6 L595.3,2136.9 L599.3,2145 L603.2,2152.9 L607.2,2160.6 L611.1,2168.2 L615.1,2175.6 L619,2182.8 L623,2189.9 L626.9,2196.8 L630.9,2203.5 L634.8,2210.2 L638.8,2216.6 L642.7,2223 L646.7,2229.2 L650.6,2235.3 L654.6,2241.3 L658.5,2247.1 L662.5,2252.9 L666.4,2258.5 L670.4,2264 L674.3,2269.5 L678.3,2274.8 L682.2,2280 L686.2,2285.1 L690.1,2290.2 L694.1,2295.1 L698,2300 L702,2304.7 L705.9,2309.4 L709.9,2314 L713.8,2318.5 L717.8,2323 L721.7,2327.4 L725.7,2331.7 L729.6,2335.9 L733.6,2340.1 L737.5,2344.2 L741.5,2348.2 L745.4,2352.2 L749.4,2356.1 L753.3,2359.9 L757.3,2363.7 L761.2,2367.4 L765.2,2371.1 L769.1,2374.7 L773.1,2378.2 L777,2381.7 L781,2385.2 L784.9,2388.6 L788.9,2391.9 L792.8,2395.2 L796.8,2398.5 L800.7,2401.7 L804.7,2404.9 L808.6,2408 L812.6,2411.1 L816.5,2414.1 L820.5,2417.1 L824.4,2420.1 L828.4,2423 L832.3,2425.8 L836.3,2428.7 L840.2,2431.5 L844.2,2434.2 L848.1,2437 L852.1,2439.6 L856,2442.3 L860,2444.9 L863.9,2447.5 L867.9,2450.1 L871.8,2452.6 L875.8,2455.1 L879.7,2457.6 L883.7,2460 L887.6,2462.4 L891.6,2464.8 L895.5,2467.1 L899.5,2469.4 L903.4,2471.7 L907.4,2474 L911.3,2476.2 L915.3,2478.4 L919.2,2480.6 L923.2,2482.8 L927.1,2484.9 L931.1,2487 L935,2489.1 L939,2491.2 L942.9,2493.2 L946.9,2495.2 L950.8,2497.2 L954.8,2499.2 L958.7,2501.2 L962.7,2503.1 L966.6,2505 L970.6,2506.9 L974.5,2508.8 L978.5,2510.6 L982.4,2512.4 L986.4,2514.3 L990.3,2516 L994.3,2517.8 L998.2,2519.6 L1002.2,2521.3 L1006.1,2523 L1010.1,2524.7 L1014,2526.4 L1018,2528.1 L1021.9,2529.8 L1025.9,2531.4 L1029.8,2533 L1033.8,2534.6 L1037.7,2536.2 L1041.7,2537.8 L1045.6,2539.3 L1049.6,2540.9 L1053.5,2542.4 L1057.5,2543.9 L1061.4,2545.4 L1065.4,2546.9 L1069.3,2548.4 L1073.3,2549.9 L1077.2,2551.3 L1081.2,2552.7 L1085.1,2554.2 L1089.1,2555.6 L1093,2557 L1097,2558.3 L1100.9,2559.7 L1104.9,2561.1 L1108.8,2562.4 L1112.8,2563.7 L1116.7,2565.1 L1120.7,2566.4 L1124.6,2567.7 L1128.6,2569 L1132.5,2570.2 L1136.5,2571.5 L1140.4,2572.8 L1144.4,2574 L1148.3,2575.2 L1152.3,2576.5 L1156.2,2577.7 L1160.2,2578.9 L1164.1,2580.1 L1168.1,2581.3 L1172,2582.4 L1176,2583.6 L1179.9,2584.7 L1183.9,2585.9 L1187.8,2587 L1191.8,2588.1 L1195.7,2589.3 L1199.7,2590.4 L1203.6,2591.5 L1207.6,2592.6 L1211.5,2593.6 L1215.5,2594.7 L1219.4,2595.8 L1223.4,2596.8 L1227.3,2597.9 L1231.3,2598.9 L1235.2,2600 L1239.2,2601 L1243.1,2602 L1247.1,2603 L1251,2604 L1255,2605 L1258.9,2606 L1262.9,2607 L1266.8,2607.9 L1270.8,2608.9 L1274.7,2609.9 L1278.7,2610.8 L1282.6,2611.8 L1286.6,2612.7 L1290.5,2613.6 L1294.5,2614.6 L1298.4,2615.5 L1302.4,2616.4 L1306.3,2617.3 L1310.3,2618.2 L1314.2,2619.1 L1318.2,2620 L1322.1,2620.8 L1326.1,2621.7 L1330,2622.6 L1334,2623.4 L1337.9,2624.3 L1341.9,2625.1 L1345.8,2626 L1349.8,2626.8 L1353.7,2627.6 L1357.7,2628.5 L1361.6,2629.3 L1365.6,2630.1 L1369.5,2630.9 L1373.5,2631.7 L1377.4,2632.5 L1381.4,2633.3 L1385.3,2634.1 L1389.3,2634.9 L1393.2,2635.7 L1397.2,2636.4 L1401.1,2637.2 L1405.1,2638 L1409,2638.7 L1413,2639.5 L1416.9,2640.2 L1420.9,2641 L1424.8,2641.7 L1428.8,2642.4 L1432.7,2643.2 L1436.7,2643.9 L1440.6,2644.6 L1444.6,2645.3 L1448.5,2646 L1452.5,2646.7 L1456.4,2647.4 L1460.4,2648.1 L1464.3,2648.8 L1468.3,2649.5 L1472.2,2650.2 L1476.2,2650.9 L1480.1,2651.5 L1484.1,2652.2 L1488,2652.9 L1492,2653.5 L1495.9,2654.2 L1499.9,2654.9 L1503.8,2655.5 L1507.8,2656.2 L1511.7,2656.8 L1515.7,2657.4 L1519.6,2658.1 L1523.6,2658.7 L1527.5,2659.3 L1531.5,2660 L1535.4,2660.6 L1539.4,2661.2 L1543.3,2661.8 L1547.3,2662.4 L1551.2,2663 L1555.2,2663.6 L1559.1,2664.2 L1563.1,2664.8 L1567,2665.4 L1571,2666 L1574.9,2666.6 L1578.9,2667.2 L1582.8,2667.8 L1586.8,2668.4 L1590.7,2668.9 L1594.7,2669.5 L1598.6,2670.1 L1602.6,2670.6 L1606.5,2671.2 L1610.5,2671.7 L1614.4,2672.3 L1618.4,2672.9 L1622.3,2673.4 L1626.3,2673.9 L1630.2,2674.5 L1634.2,2675 L1638.1,2675.6 L1642.1,2676.1 L1646,2676.6 L1650,2677.2 L1653.9,2677.7 L1657.9,2678.2 L1661.8,2678.7 L1665.8,2679.2 L1669.7,2679.8 L1673.7,2680.3 L1677.6,2680.8 L1681.6,2681.3 L1685.5,2681.8 L1689.5,2682.3 L1693.4,2682.8 L1697.4,2683.3 L1701.3,2683.8 L1705.3,2684.3 L1709.2,2684.8 L1713.2,2685.3 L1717.1,2685.7 L1721.1,2686.2 L1725,2686.7 L1729,2687.2 L1732.9,2687.6 L1736.9,2688.1 L1740.8,2688.6 L1744.8,2689.1 L1748.7,2689.5 L1752.7,2690 L1756.6,2690.4 L1760.6,2690.9 L1764.5,2691.4 L1768.5,2691.8 L1772.4,2692.3 L1776.4,2692.7 L1780.3,2693.2 L1784.3,2693.6 L1788.2,2694 L1792.2,2694.5 L1796.1,2694.9 L1800.1,2695.4 L1804,2695.8 L1808,2696.2 L1811.9,2696.6 L1815.9,2697.1 L1819.8,2697.5 L1823.8,2697.9 L1827.7,2698.3 L1831.7,2698.8 L1835.6,2699.2 L1839.6,2699.6 L1843.5,2700 L1847.5,2700.4 L1851.4,2700.8 L1855.4,2701.2 L1859.3,2701.6 L1863.3,2702.1 L1867.2,2702.5 L1871.2,2702.9 L1875.1,2703.3 L1879.1,2703.7 L1883,2704 L1887,2704.4 L1890.9,2704.8 L1894.9,2705.2 L1898.8,2705.6 L1902.8,2706 L1906.7,2706.4 L1910.7,2706.8 L1914.6,2707.1 L1918.6,2707.5 L1922.5,2707.9 L1926.5,2708.3 L1930.4,2708.7 L1934.4,2709 L1938.3,2709.4 L1942.3,2709.8 L1946.2,2710.1 L1950.2,2710.5 L1954.1,2710.9 L1958.1,2711.2 L1962,2711.6 L1966,2711.9 L1969.9,2712.3 L1973.9,2712.7 L1977.8,2713 L1981.8,2713.4 L1985.7,2713.7 L1989.7,2714.1 L1993.6,2714.4 L1997.6,2714.8 L2001.5,2715.1 L2005.5,2715.5 L2009.4,2715.8 L2013.4,2716.1 L2017.3,2716.5 L2021.3,2716.8 L2025.2,2717.2 L2029.2,2717.5 L2033.1,2717.8 L2037.1,2718.2 L2041,2718.5" fill="none" stroke="#0000ff" stroke-width="7" stroke-linejoin="round"/>
<circle cx="1008.5" cy="2520" r="21.5" fill="#000"/>
<circle cx="1284.6" cy="2614" r="21.5" fill="#000"/>
<circle cx="1585" cy="2652" r="21.5" fill="#000"/>
<circle cx="1809" cy="2695" r="21.5" fill="#000"/>
<circle cx="1949" cy="2703" r="21.5" fill="#000"/>
<rect x="463" y="33" width="1580" height="1272" fill="none" stroke="#000" stroke-width="12"/>
<line x1="469" y1="149" x2="489" y2="149" stroke="#000" stroke-width="9"/>
<line x1="469" y1="264.6" x2="477" y2="264.6" stroke="#000" stroke-width="9"/>
<line x1="469" y1="380.2" x2="489" y2="380.2" stroke="#000" stroke-width="9"/>
<line x1="469" y1="495.8" x2="477" y2="495.8" stroke="#000" stroke-width="9"/>
<line x1="469" y1="611.4" x2="489" y2="611.4" stroke="#000" stroke-width="9"/>
<line x1="469" y1="727" x2="477" y2="727" stroke="#000" stroke-width="9"/>
<line x1="469" y1="842.6" x2="489" y2="842.6" stroke="#000" stroke-width="9"/>
<line x1="469" y1="958.2" x2="477" y2="958.2" stroke="#000" stroke-width="9"/>
<line x1="469" y1="1073.8" x2="489" y2="1073.8" stroke="#000" stroke-width="9"/>
<line x1="469" y1="1189.4" x2="477" y2="1189.4" stroke="#000" stroke-width="9"/>
<line x1="469" y1="1305" x2="489" y2="1305" stroke="#000" stroke-width="9"/>
<line x1="661.5" y1="1299" x2="661.5" y2="1291" stroke="#000" stroke-width="9"/>
<line x1="859" y1="1299" x2="859" y2="1279" stroke="#000" stroke-width="9"/>
<line x1="1056.5" y1="1299" x2="1056.5" y2="1291" stroke="#000" stroke-width="9"/>
<line x1="1254" y1="1299" x2="1254" y2="1279" stroke="#000" stroke-width="9"/>
<line x1="1451.5" y1="1299" x2="1451.5" y2="1291" stroke="#000" stroke-width="9"/>
<line x1="1649" y1="1299" x2="1649" y2="1279" stroke="#000" stroke-width="9"/>
<line x1="1846.5" y1="1299" x2="1846.5" y2="1291" stroke="#000" stroke-width="9"/>
<rect x="467" y="1593" width="1576" height="1272" fill="none" stroke="#000" stroke-width="12"/>
<line x1="473" y1="2865" x2="489" y2="2865" stroke="#000" stroke-width="9"/>
<line x1="473" y1="2653" x2="479" y2="2653" stroke="#000" stroke-width="9"/>
<line x1="473" y1="2441" x2="489" y2="2441" stroke="#000" stroke-width="9"/>
<line x1="473" y1="2229" x2="479" y2="2229" stroke="#000" stroke-width="9"/>
<line x1="473" y1="2017" x2="489" y2="2017" stroke="#000" stroke-width="9"/>
<line x1="473" y1="1805" x2="479" y2="1805" stroke="#000" stroke-width="9"/>
<line x1="473" y1="1593" x2="489" y2="1593" stroke="#000" stroke-width="9"/>
<line x1="661.5" y1="2859" x2="661.5" y2="2853" stroke="#000" stroke-width="9"/>
<line x1="859" y1="2859" x2="859" y2="2843" stroke="#000" stroke-width="9"/>
<line x1="1056.5" y1="2859" x2="1056.5" y2="2853" stroke="#000" stroke-width="9"/>
<line x1="1254" y1="2859" x2="1254" y2="2843" stroke="#000" stroke-width="9"/>
<line x1="1451.5" y1="2859" x2="1451.5" y2="2853" stroke="#000" stroke-width="9"/>
<line x1="1649" y1="2859" x2="1649" y2="2843" stroke="#000" stroke-width="9"/>
<line x1="1846.5" y1="2859" x2="1846.5" y2="2853" stroke="#000" stroke-width="9"/>
<line x1="526" y1="470.6" x2="679" y2="470.6" stroke="#505050" stroke-width="7.5"/>
<circle cx="602" cy="470.6" r="14.5" fill="url(#g10)"/>
<text x="692" y="490.6" style="font-family:&quot;Liberation Serif&quot;,&quot;Times New Roman&quot;,serif;font-weight:bold;font-size:66px">1.0</text>
<line x1="526" y1="553.6" x2="679" y2="553.6" stroke="#f5393f" stroke-width="7.5"/>
<circle cx="602" cy="553.6" r="14.5" fill="url(#g15)"/>
<text x="692" y="573.6" style="font-family:&quot;Liberation Serif&quot;,&quot;Times New Roman&quot;,serif;font-weight:bold;font-size:66px">1.5</text>
<line x1="526" y1="636.6" x2="679" y2="636.6" stroke="#0a6be8" stroke-width="7.5"/>
<circle cx="602" cy="636.6" r="14.5" fill="url(#g20)"/>
<text x="692" y="656.6" style="font-family:&quot;Liberation Serif&quot;,&quot;Times New Roman&quot;,serif;font-weight:bold;font-size:66px">2.0</text>
<line x1="526" y1="719.6" x2="679" y2="719.6" stroke="#0aa860" stroke-width="7.5"/>
<circle cx="602" cy="719.6" r="14.5" fill="url(#g25)"/>
<text x="692" y="739.6" style="font-family:&quot;Liberation Serif&quot;,&quot;Times New Roman&quot;,serif;font-weight:bold;font-size:66px">2.5</text>
<line x1="526" y1="802.6" x2="679" y2="802.6" stroke="#c77ae6" stroke-width="7.5"/>
<circle cx="602" cy="802.6" r="14.5" fill="url(#g30)"/>
<text x="692" y="822.6" style="font-family:&quot;Liberation Serif&quot;,&quot;Times New Roman&quot;,serif;font-weight:bold;font-size:66px">3.0</text>
<line x1="526" y1="885.6" x2="679" y2="885.6" stroke="#e0a000" stroke-width="7.5"/>
<circle cx="602" cy="885.6" r="14.5" fill="url(#g40)"/>
<text x="692" y="905.6" style="font-family:&quot;Liberation Serif&quot;,&quot;Times New Roman&quot;,serif;font-weight:bold;font-size:66px">4.0</text>
<line x1="526" y1="968.6" x2="679" y2="968.6" stroke="#00d0d6" stroke-width="7.5"/>
<circle cx="602" cy="968.6" r="14.5" fill="url(#g50)"/>
<text x="692" y="988.6" style="font-family:&quot;Liberation Serif&quot;,&quot;Times New Roman&quot;,serif;font-weight:bold;font-size:66px">5.0</text>
<line x1="526" y1="1051.6" x2="679" y2="1051.6" stroke="#985252" stroke-width="7.5"/>
<circle cx="602" cy="1051.6" r="14.5" fill="url(#g55)"/>
<text x="692" y="1071.6" style="font-family:&quot;Liberation Serif&quot;,&quot;Times New Roman&quot;,serif;font-weight:bold;font-size:66px">5.5</text>
<line x1="526" y1="1134.6" x2="679" y2="1134.6" stroke="#9a9a00" stroke-width="7.5"/>
<circle cx="602" cy="1134.6" r="14.5" fill="url(#g60)"/>
<text x="692" y="1154.6" style="font-family:&quot;Liberation Serif&quot;,&quot;Times New Roman&quot;,serif;font-weight:bold;font-size:66px">6.0</text>
<line x1="526" y1="1217.6" x2="679" y2="1217.6" stroke="#ff6600" stroke-width="7.5"/>
<circle cx="602" cy="1217.6" r="14.5" fill="url(#g70)"/>
<text x="692" y="1237.6" style="font-family:&quot;Liberation Serif&quot;,&quot;Times New Roman&quot;,serif;font-weight:bold;font-size:66px">7.0</text>
<line x1="541" y1="1675" x2="709" y2="1675" stroke="#0000ff" stroke-width="7"/>
<text x="719" y="1695" style="font-family:&quot;Liberation Sans&quot;,Arial,sans-serif;font-size:73px" stroke="#fff" stroke-width="1.2">λ/4</text>
</svg></body></html>
